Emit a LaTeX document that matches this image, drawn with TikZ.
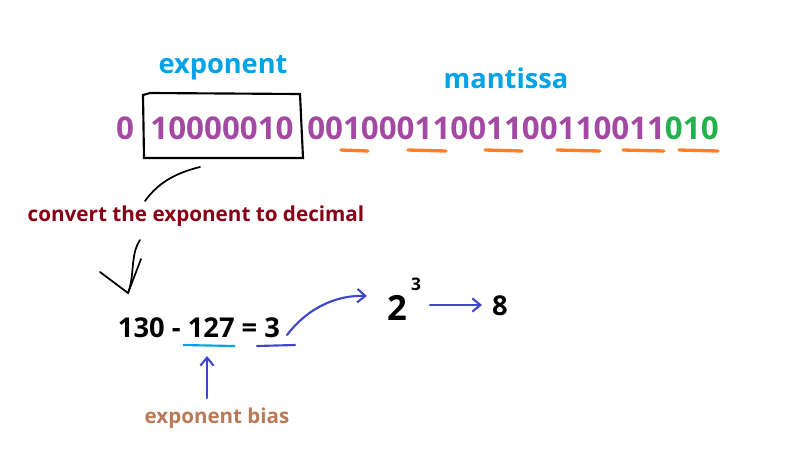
\documentclass[tikz,border=0pt]{standalone}
\usepackage{fontspec}
\setmainfont{Open Sans}
\usetikzlibrary{arrows.meta}
\definecolor{cy}{RGB}{0,162,232}
\definecolor{pu}{RGB}{163,73,164}
\definecolor{gr}{RGB}{34,177,76}
\definecolor{orr}{RGB}{255,127,39}
\definecolor{dr}{RGB}{136,0,21}
\definecolor{ind}{RGB}{63,72,204}
\definecolor{br}{RGB}{185,122,87}
\tikzset{x=0.75pt,y=-0.75pt,
 lbl/.style={font=\bfseries\fontsize{20.4}{24}\selectfont,inner sep=0pt},
 bits/.style={font=\bfseries\fontsize{23.5}{28}\selectfont,inner sep=0pt,text=pu},
 eq/.style={font=\bfseries\fontsize{20.5}{24}\selectfont,inner sep=0pt},
 orangedash/.style={orr,line width=2.5pt,line cap=round},
 ink/.style={ind,line width=1.6pt,line cap=round},
 inkarrow/.style={ink,-{Straight Barb[length=6pt,width=10pt]}}}
\begin{document}
\begin{tikzpicture}
\useasboundingbox (0,0) rectangle (803,454);
\node[lbl,text=cy] (exp) at (223,68) {exponent};
\node[lbl,text=cy] (man) at (506,78) {mantissa};
\node[bits] (s) at (125,128) {0};
\node[bits] (e) at (222,128) {10000010};
\node[bits,anchor=west] (m) at (307,128) {00100011001100110011\textcolor{gr}{010}};
\draw[line width=1.6pt] (144,158) -- (143,95) -- (150,93) -- (300,94) -- (303,158) -- cycle;
\foreach \a/\b in {341/368,408/446,485/522,557/600,623/664,679/718}
  \draw[orangedash] (\a,150) -- (\b,151);
\node[font=\bfseries\fontsize{15.5}{18}\selectfont,text=dr,inner sep=0pt] (conv) at (196,216) {convert the exponent to decimal};
\coordinate (c1) at (200,167);
\coordinate (c2) at (145,201);
\draw[line width=1.3pt,line cap=round] (c1) .. controls (180,172) and (160,180) .. (c2);
\coordinate (d1) at (140,240);
\coordinate (d2) at (128,293);
\draw[line width=1.3pt,line cap=round] (d1) .. controls (130,255) and (135,275) .. (d2);
\draw[line width=1.3pt,line cap=round] (100,272) -- (d2) -- (141,259);
\node[eq] (eqn) at (199,328) {130 - 127 = 3};
\draw[cy,line width=1.6pt] (183,345) -- (235,346);
\coordinate (u3a) at (257,346);
\coordinate (u3b) at (295,345);
\draw[ink] (u3a) -- (u3b);
\node[font=\bfseries\fontsize{26}{30}\selectfont,inner sep=0pt] (two) at (397,308) {2};
\node[font=\bfseries\fontsize{13}{15}\selectfont,inner sep=0pt] (three) at (416,284) {3};
\node[eq] (eight) at (500,306) {8};
\draw[inkarrow] (287,335) .. controls (310,305) and (340,295) .. (367,296);
\draw[inkarrow] (430,305) -- (482,305);
\coordinate (b1) at (207,398);
\draw[inkarrow] (b1) -- (207,356);
\node[font=\bfseries\fontsize{15.4}{18}\selectfont,text=br,inner sep=0pt] (bias) at (217,418) {exponent bias};
\end{tikzpicture}
\end{document}
